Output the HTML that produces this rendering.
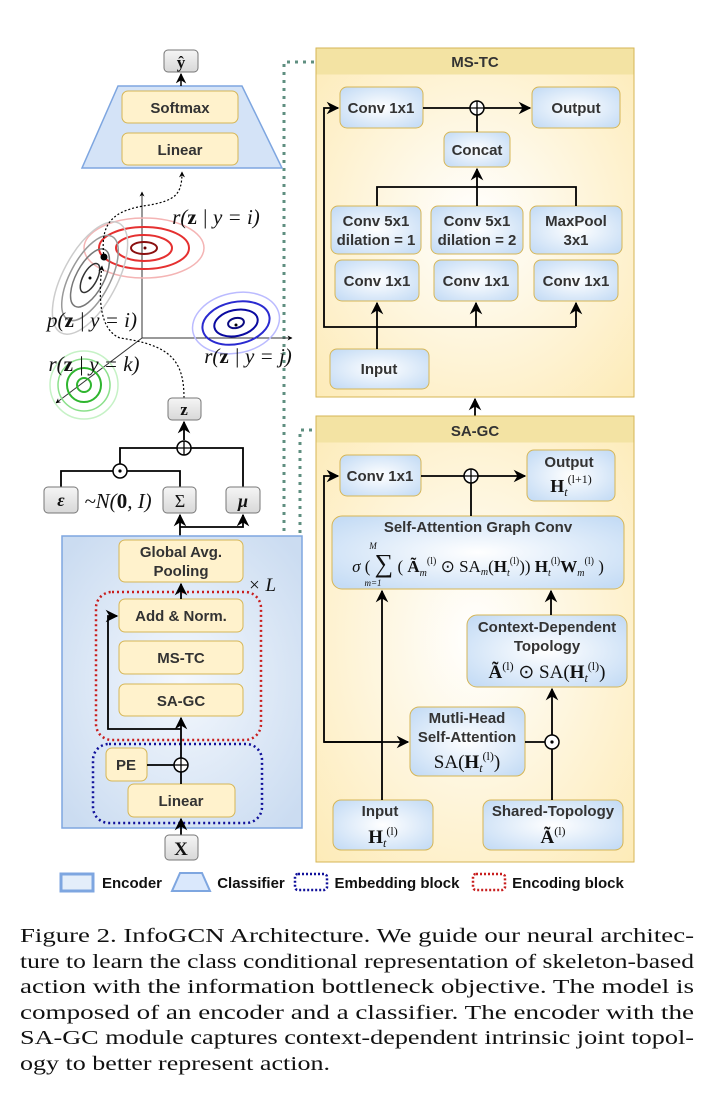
<!DOCTYPE html>
<html><head><meta charset="utf-8"><style>
html,body{margin:0;padding:0;background:#fff;}
svg{display:block;}
.b{font-family:"Liberation Sans",sans-serif;font-weight:bold;fill:#333;font-size:15px;text-anchor:middle;}
.m{font-family:"Liberation Serif",serif;fill:#111;text-anchor:middle;}
.cap{font-family:"Liberation Serif",serif;font-size:20.5px;fill:#111;}
</style></head><body>
<svg width="716" height="1120" viewBox="0 0 716 1120" xmlns="http://www.w3.org/2000/svg">
<defs>
<radialGradient id="pg" cx="50%" cy="50%" r="70%"><stop offset="0" stop-color="#ffffff"/><stop offset="1" stop-color="#fdebb8"/></radialGradient>
<radialGradient id="bg" cx="50%" cy="50%" r="65%"><stop offset="0" stop-color="#ffffff"/><stop offset="1" stop-color="#c5dcf5"/></radialGradient>
<radialGradient id="eg" cx="50%" cy="50%" r="65%"><stop offset="0" stop-color="#f4f8fd"/><stop offset="1" stop-color="#cbdcf1"/></radialGradient>
<linearGradient id="gg" x1="0" y1="0" x2="0" y2="1"><stop offset="0" stop-color="#f5f5f5"/><stop offset="1" stop-color="#d8d8d8"/></linearGradient>
<marker id="a" viewBox="0 0 10 10" refX="9" refY="5" markerWidth="7" markerHeight="7" orient="auto-start-reverse"><path d="M0,0 L10,5 L0,10 L3,5 z" fill="#000"/></marker>
<marker id="as" viewBox="0 0 10 10" refX="9" refY="5" markerWidth="5" markerHeight="5" orient="auto"><path d="M0,0 L10,5 L0,10 L3,5 z" fill="#000"/></marker>
</defs>

<g fill="none" stroke="#5f8f80" stroke-width="3" stroke-dasharray="3,5">
<polyline points="243,658 284,658 284,62 316,62"/>
<polyline points="243,700 300,700 300,430 316,430"/>
</g>

<polygon points="118,86 242,86 282,168 82,168" fill="#d4e3f7" stroke="#7ea6e0" stroke-width="1.5"/>
<rect x="122" y="91" width="116" height="32" rx="6" fill="#fff2cc" stroke="#d6b656"/>
<text class="b" x="180" y="113">Softmax</text>
<rect x="122" y="133" width="116" height="32" rx="6" fill="#fff2cc" stroke="#d6b656"/>
<text class="b" x="180" y="155">Linear</text>
<rect x="164" y="50" width="34" height="22" rx="4" fill="url(#gg)" stroke="#777"/>
<text class="m" x="181" y="68" font-size="17" font-weight="bold">ŷ</text>
<line x1="181" y1="86" x2="181" y2="74" stroke="#000" stroke-width="1.5" marker-end="url(#a)"/>

<g stroke="#333" stroke-width="1" fill="none">
<line x1="142" y1="338" x2="142" y2="192" marker-end="url(#as)"/>
<line x1="142" y1="338" x2="292" y2="338" marker-end="url(#as)"/>
<line x1="142" y1="338" x2="56" y2="403" marker-end="url(#as)"/>
</g>
<g fill="none">
<ellipse cx="144" cy="248" rx="60" ry="30" stroke="#f4b4b4" stroke-width="1.5"/>
<ellipse cx="144" cy="248" rx="45" ry="21" stroke="#e53030" stroke-width="2"/>
<ellipse cx="144" cy="248" rx="28" ry="13" stroke="#e53030" stroke-width="2"/>
<ellipse cx="144" cy="248" rx="13" ry="6" stroke="#8b1010" stroke-width="2"/>
</g>
<circle cx="145" cy="248" r="1.5" fill="#600"/>
<g fill="none" transform="rotate(-62 90 278)">
<ellipse cx="90" cy="278" rx="62" ry="27" stroke="#ccc" stroke-width="1.5"/>
<ellipse cx="90" cy="278" rx="47" ry="20" stroke="#999" stroke-width="1.5"/>
<ellipse cx="90" cy="278" rx="32" ry="14" stroke="#777" stroke-width="1.5"/>
<ellipse cx="90" cy="278" rx="16" ry="7" stroke="#333" stroke-width="1.5"/>
</g>
<circle cx="90" cy="278" r="1.5" fill="#000"/>
<g fill="none" transform="rotate(-12 236 323)">
<ellipse cx="236" cy="323" rx="44" ry="30" stroke="#bbbbff" stroke-width="1.5"/>
<ellipse cx="236" cy="323" rx="34" ry="21" stroke="#2a2ad0" stroke-width="2"/>
<ellipse cx="236" cy="323" rx="22" ry="13" stroke="#0a0aa0" stroke-width="2"/>
<ellipse cx="236" cy="323" rx="8" ry="5" stroke="#0a0a80" stroke-width="2"/>
</g>
<circle cx="236" cy="325" r="1.5" fill="#000"/>
<g fill="none">
<circle cx="84" cy="385" r="34" stroke="#c6f2c6" stroke-width="1.5"/>
<circle cx="84" cy="385" r="26" stroke="#8be08b" stroke-width="1.5"/>
<circle cx="84" cy="385" r="17" stroke="#2fb52f" stroke-width="2"/>
<circle cx="84" cy="385" r="7" stroke="#2fb52f" stroke-width="2"/>
</g>
<path d="M184,398 C184,360 170,345 120,338 C100,330 98,300 102,266" fill="none" stroke="#000" stroke-width="1.2" stroke-dasharray="2,2" marker-end="url(#as)"/>
<path d="M104,258 C100,225 110,210 150,205 C175,200 182,195 182,172" fill="none" stroke="#000" stroke-width="1.2" stroke-dasharray="2,2" marker-end="url(#as)"/>
<circle cx="104" cy="257" r="3.5" fill="#000"/>
<text class="m" x="216" y="224" font-size="21" font-style="italic">r(<tspan font-weight="bold" font-style="normal">z</tspan> | y = i)</text>
<text class="m" x="92" y="327" font-size="21" font-style="italic">p(<tspan font-weight="bold" font-style="normal">z</tspan> | y = i)</text>
<text class="m" x="94" y="371" font-size="21" font-style="italic">r(<tspan font-weight="bold" font-style="normal">z</tspan> | y = k)</text>
<text class="m" x="248" y="363" font-size="21" font-style="italic">r(<tspan font-weight="bold" font-style="normal">z</tspan> | y = j)</text>

<rect x="168" y="398" width="33" height="22" rx="4" fill="url(#gg)" stroke="#777"/>
<text class="m" x="184" y="415" font-size="17" font-weight="bold">z</text>
<g stroke="#000" stroke-width="1.8" fill="none">
<line x1="184" y1="440" x2="184" y2="422" marker-end="url(#a)"/>
<polyline points="120,464 120,448 177,448"/>
<polyline points="191,448 243,448 243,487"/>
<polyline points="61,487 61,471 113,471"/>
<polyline points="127,471 180,471 180,487"/>
<line x1="180" y1="537" x2="180" y2="515" marker-end="url(#a)"/>
<polyline points="180,527 243,527 243,515"/>
<line x1="243" y1="522" x2="243" y2="515" marker-end="url(#a)"/>
</g>
<circle cx="184" cy="448" r="7" fill="#fff" stroke="#000" stroke-width="1.5"/>
<path d="M177,448h14M184,441v14" stroke="#000" stroke-width="1.3"/>
<circle cx="120" cy="471" r="7" fill="#fff" stroke="#000" stroke-width="1.5"/>
<circle cx="120" cy="471" r="1.6" fill="#000"/>
<rect x="44" y="487" width="34" height="26" rx="4" fill="url(#gg)" stroke="#777"/>
<text class="m" x="61" y="506" font-size="18" font-weight="bold" font-style="italic">ε</text>
<text class="m" x="118" y="508" font-size="21" font-style="italic">~N(<tspan font-weight="bold" font-style="normal">0</tspan>, I)</text>
<rect x="163" y="487" width="33" height="26" rx="4" fill="url(#gg)" stroke="#777"/>
<text class="m" x="180" y="507" font-size="18">Σ</text>
<rect x="226" y="487" width="34" height="26" rx="4" fill="url(#gg)" stroke="#777"/>
<text class="m" x="243" y="507" font-size="18" font-weight="bold" font-style="italic">μ</text>

<rect x="62" y="536" width="240" height="292" fill="url(#eg)" stroke="#7ea6e0" stroke-width="1.5"/>
<rect x="119" y="540" width="124" height="42" rx="6" fill="#fff2cc" stroke="#d6b656"/>
<text class="b" x="181" y="557">Global Avg.</text>
<text class="b" x="181" y="576">Pooling</text>
<text class="m" x="262" y="591" font-size="19" font-style="italic">× L</text>
<rect x="96" y="592" width="165" height="148" rx="16" fill="none" stroke="#c81e1e" stroke-width="2.5" stroke-dasharray="2,3"/>
<rect x="93" y="744" width="169" height="79" rx="16" fill="none" stroke="#10109a" stroke-width="2.5" stroke-dasharray="2,3"/>
<rect x="119" y="599" width="124" height="33" rx="6" fill="#fff2cc" stroke="#d6b656"/>
<text class="b" x="181" y="621">Add &amp; Norm.</text>
<rect x="119" y="641" width="124" height="33" rx="6" fill="#fff2cc" stroke="#d6b656"/>
<text class="b" x="181" y="663">MS-TC</text>
<rect x="119" y="684" width="124" height="32" rx="6" fill="#fff2cc" stroke="#d6b656"/>
<text class="b" x="181" y="706">SA-GC</text>
<rect x="106" y="748" width="41" height="33" rx="6" fill="#fff2cc" stroke="#d6b656"/>
<text class="b" x="126" y="770">PE</text>
<rect x="128" y="784" width="107" height="33" rx="6" fill="#fff2cc" stroke="#d6b656"/>
<text class="b" x="181" y="806">Linear</text>
<g stroke="#000" stroke-width="1.8" fill="none">
<line x1="181" y1="599" x2="181" y2="584" marker-end="url(#a)"/>
<line x1="181" y1="758" x2="181" y2="718" marker-end="url(#a)"/>
<line x1="181" y1="784" x2="181" y2="772"/>
<line x1="147" y1="765" x2="174" y2="765"/>
<polyline points="181,729 108,729 108,616 117,616" marker-end="url(#a)"/>
<line x1="181" y1="835" x2="181" y2="819" marker-end="url(#a)"/>
</g>
<circle cx="181" cy="765" r="7" fill="#fff" stroke="#000" stroke-width="1.5"/>
<path d="M174,765h14M181,758v14" stroke="#000" stroke-width="1.3"/>
<rect x="165" y="835" width="33" height="25" rx="4" fill="url(#gg)" stroke="#777"/>
<text class="m" x="181" y="855" font-size="19" font-weight="bold">X</text>

<rect x="316" y="48" width="318" height="349" fill="url(#pg)" stroke="#d6b656"/>
<rect x="316.5" y="48.5" width="317" height="26" fill="#f3e3a3"/>
<text class="b" x="475" y="67" font-size="14">MS-TC</text>
<g fill="url(#bg)" stroke="#d6b656">
<rect x="340" y="87" width="83" height="41" rx="7"/>
<rect x="532" y="87" width="88" height="41" rx="7"/>
<rect x="444" y="132" width="66" height="35" rx="7"/>
<rect x="331" y="206" width="90" height="48" rx="7"/>
<rect x="431" y="206" width="92" height="48" rx="7"/>
<rect x="530" y="206" width="92" height="48" rx="7"/>
<rect x="335" y="260" width="84" height="41" rx="7"/>
<rect x="434" y="260" width="84" height="41" rx="7"/>
<rect x="534" y="260" width="84" height="41" rx="7"/>
<rect x="330" y="349" width="99" height="40" rx="7"/>
</g>
<text class="b" x="381" y="113">Conv 1x1</text>
<text class="b" x="576" y="113">Output</text>
<text class="b" x="477" y="155">Concat</text>
<text class="b" x="376" y="226">Conv 5x1</text><text class="b" x="376" y="245">dilation = 1</text>
<text class="b" x="477" y="226">Conv 5x1</text><text class="b" x="477" y="245">dilation = 2</text>
<text class="b" x="576" y="226">MaxPool</text><text class="b" x="576" y="245">3x1</text>
<text class="b" x="377" y="286">Conv 1x1</text>
<text class="b" x="476" y="286">Conv 1x1</text>
<text class="b" x="576" y="286">Conv 1x1</text>
<text class="b" x="379" y="374">Input</text>
<g stroke="#000" stroke-width="1.8" fill="none">
<line x1="423" y1="108" x2="470" y2="108"/>
<line x1="484" y1="108" x2="530" y2="108" marker-end="url(#a)"/>
<line x1="477" y1="132" x2="477" y2="115"/>
<polyline points="377,206 377,187 576,187 576,206"/>
<line x1="477" y1="206" x2="477" y2="169" marker-end="url(#a)"/>
<line x1="377" y1="349" x2="377" y2="303" marker-end="url(#a)"/>
<polyline points="377,327 324,327 324,108 338,108" marker-end="url(#a)"/>
<line x1="377" y1="327" x2="576" y2="327"/>
<line x1="476" y1="327" x2="476" y2="303" marker-end="url(#a)"/>
<line x1="576" y1="327" x2="576" y2="303" marker-end="url(#a)"/>
<line x1="475" y1="416" x2="475" y2="399" marker-end="url(#a)"/>
</g>
<circle cx="477" cy="108" r="7" fill="#fff" stroke="#000" stroke-width="1.5"/>
<path d="M470,108h14M477,101v14" stroke="#000" stroke-width="1.3"/>

<rect x="316" y="416" width="318" height="446" fill="url(#pg)" stroke="#d6b656"/>
<rect x="316.5" y="416.5" width="317" height="26" fill="#f3e3a3"/>
<text class="b" x="475" y="436" font-size="14">SA-GC</text>
<g fill="url(#bg)" stroke="#d6b656">
<rect x="340" y="455" width="81" height="41" rx="7"/>
<rect x="527" y="450" width="88" height="51" rx="7"/>
<rect x="332" y="516" width="292" height="73" rx="10"/>
<rect x="467" y="615" width="160" height="72" rx="10"/>
<rect x="410" y="707" width="115" height="69" rx="9"/>
<rect x="333" y="800" width="100" height="50" rx="8"/>
<rect x="483" y="800" width="140" height="50" rx="8"/>
</g>
<text class="b" x="380" y="481">Conv 1x1</text>
<text class="b" x="569" y="467">Output</text>
<text class="m" x="571" y="492" font-size="18"><tspan font-weight="bold">H</tspan><tspan font-size="12" font-style="italic" dy="4">t</tspan><tspan font-size="12" dy="-13">(l+1)</tspan></text>
<text class="b" x="478" y="532">Self-Attention Graph Conv</text>
<text class="m" x="478" y="572" font-size="17"><tspan font-style="italic">σ</tspan> ( <tspan font-size="26">∑</tspan> ( <tspan font-weight="bold">Ã</tspan><tspan font-size="10" font-style="italic" dy="4">m</tspan><tspan font-size="10" dy="-12">(l)</tspan><tspan dy="8"> ⊙ SA</tspan><tspan font-size="10" font-style="italic" dy="3">m</tspan><tspan dy="-3">(</tspan><tspan font-weight="bold">H</tspan><tspan font-size="10" font-style="italic" dy="4">t</tspan><tspan font-size="10" dy="-12">(l)</tspan><tspan dy="8">)) </tspan><tspan font-weight="bold">H</tspan><tspan font-size="10" font-style="italic" dy="4">t</tspan><tspan font-size="10" dy="-12">(l)</tspan><tspan font-weight="bold" dy="8">W</tspan><tspan font-size="10" font-style="italic" dy="4">m</tspan><tspan font-size="10" dy="-12">(l)</tspan><tspan dy="8"> )</tspan></text>
<text class="m" x="373" y="586" font-size="9" font-style="italic">m=1</text>
<text class="m" x="373" y="549" font-size="9" font-style="italic">M</text>
<text class="b" x="547" y="632">Context-Dependent</text>
<text class="b" x="547" y="651">Topology</text>
<text class="m" x="547" y="678" font-size="19"><tspan font-weight="bold">Ã</tspan><tspan font-size="12" dy="-8">(l)</tspan><tspan dy="8"> ⊙ SA(</tspan><tspan font-weight="bold">H</tspan><tspan font-size="12" font-style="italic" dy="4">t</tspan><tspan font-size="12" dy="-12">(l)</tspan><tspan dy="8">)</tspan></text>
<text class="b" x="467" y="723">Mutli-Head</text>
<text class="b" x="467" y="742">Self-Attention</text>
<text class="m" x="467" y="768" font-size="19">SA(<tspan font-weight="bold">H</tspan><tspan font-size="12" font-style="italic" dy="4">t</tspan><tspan font-size="12" dy="-12">(l)</tspan><tspan dy="8">)</tspan></text>
<text class="b" x="380" y="816">Input</text>
<text class="m" x="383" y="843" font-size="19"><tspan font-weight="bold">H</tspan><tspan font-size="12" font-style="italic" dy="4">t</tspan><tspan font-size="12" dy="-12">(l)</tspan></text>
<text class="b" x="553" y="816">Shared-Topology</text>
<text class="m" x="553" y="843" font-size="19"><tspan font-weight="bold">Ã</tspan><tspan font-size="12" dy="-8">(l)</tspan></text>
<g stroke="#000" stroke-width="1.8" fill="none">
<line x1="421" y1="476" x2="464" y2="476"/>
<line x1="478" y1="476" x2="525" y2="476" marker-end="url(#a)"/>
<line x1="471" y1="516" x2="471" y2="483"/>
<line x1="382" y1="800" x2="382" y2="591" marker-end="url(#a)"/>
<polyline points="382,742 324,742 324,476 338,476" marker-end="url(#a)"/>
<line x1="324" y1="742" x2="408" y2="742" marker-end="url(#a)"/>
<line x1="525" y1="742" x2="545" y2="742"/>
<line x1="552" y1="800" x2="552" y2="749"/>
<line x1="552" y1="735" x2="552" y2="689" marker-end="url(#a)"/>
<line x1="551" y1="615" x2="551" y2="591" marker-end="url(#a)"/>
</g>
<circle cx="471" cy="476" r="7" fill="#fff" stroke="#000" stroke-width="1.5"/>
<path d="M464,476h14M471,469v14" stroke="#000" stroke-width="1.3"/>
<circle cx="552" cy="742" r="7" fill="#fff" stroke="#000" stroke-width="1.5"/>
<circle cx="552" cy="742" r="1.6" fill="#000"/>

<rect x="61" y="874" width="32" height="17" fill="#e4eefa" stroke="#7ea6e0" stroke-width="3"/>
<text class="b" x="132" y="888" style="fill:#111">Encoder</text>
<polygon points="180,873 202,873 210,891 172,891" fill="#dae8fc" stroke="#7ea6e0" stroke-width="2"/>
<text class="b" x="251" y="888" style="fill:#111">Classifier</text>
<rect x="295" y="874" width="32" height="16" rx="3" fill="none" stroke="#10109a" stroke-width="2.5" stroke-dasharray="2,2"/>
<text class="b" x="397" y="888" style="fill:#111">Embedding block</text>
<rect x="473" y="874" width="32" height="16" rx="3" fill="none" stroke="#c81e1e" stroke-width="2.5" stroke-dasharray="2,2"/>
<text class="b" x="568" y="888" style="fill:#111">Encoding block</text>

<text class="cap" x="20" y="942" textLength="674" lengthAdjust="spacingAndGlyphs">Figure 2.  InfoGCN Architecture.  We guide our neural architec-</text>
<text class="cap" x="20" y="968" textLength="674" lengthAdjust="spacingAndGlyphs">ture to learn the class conditional representation of skeleton-based</text>
<text class="cap" x="20" y="993" textLength="674" lengthAdjust="spacingAndGlyphs">action with the information bottleneck objective.  The model is</text>
<text class="cap" x="20" y="1019" textLength="674" lengthAdjust="spacingAndGlyphs">composed of an encoder and a classifier.  The encoder with the</text>
<text class="cap" x="20" y="1044" textLength="674" lengthAdjust="spacingAndGlyphs">SA-GC module captures context-dependent intrinsic joint topol-</text>
<text class="cap" x="20" y="1070" textLength="310" lengthAdjust="spacingAndGlyphs">ogy to better represent action.</text>
</svg>
</body></html>
